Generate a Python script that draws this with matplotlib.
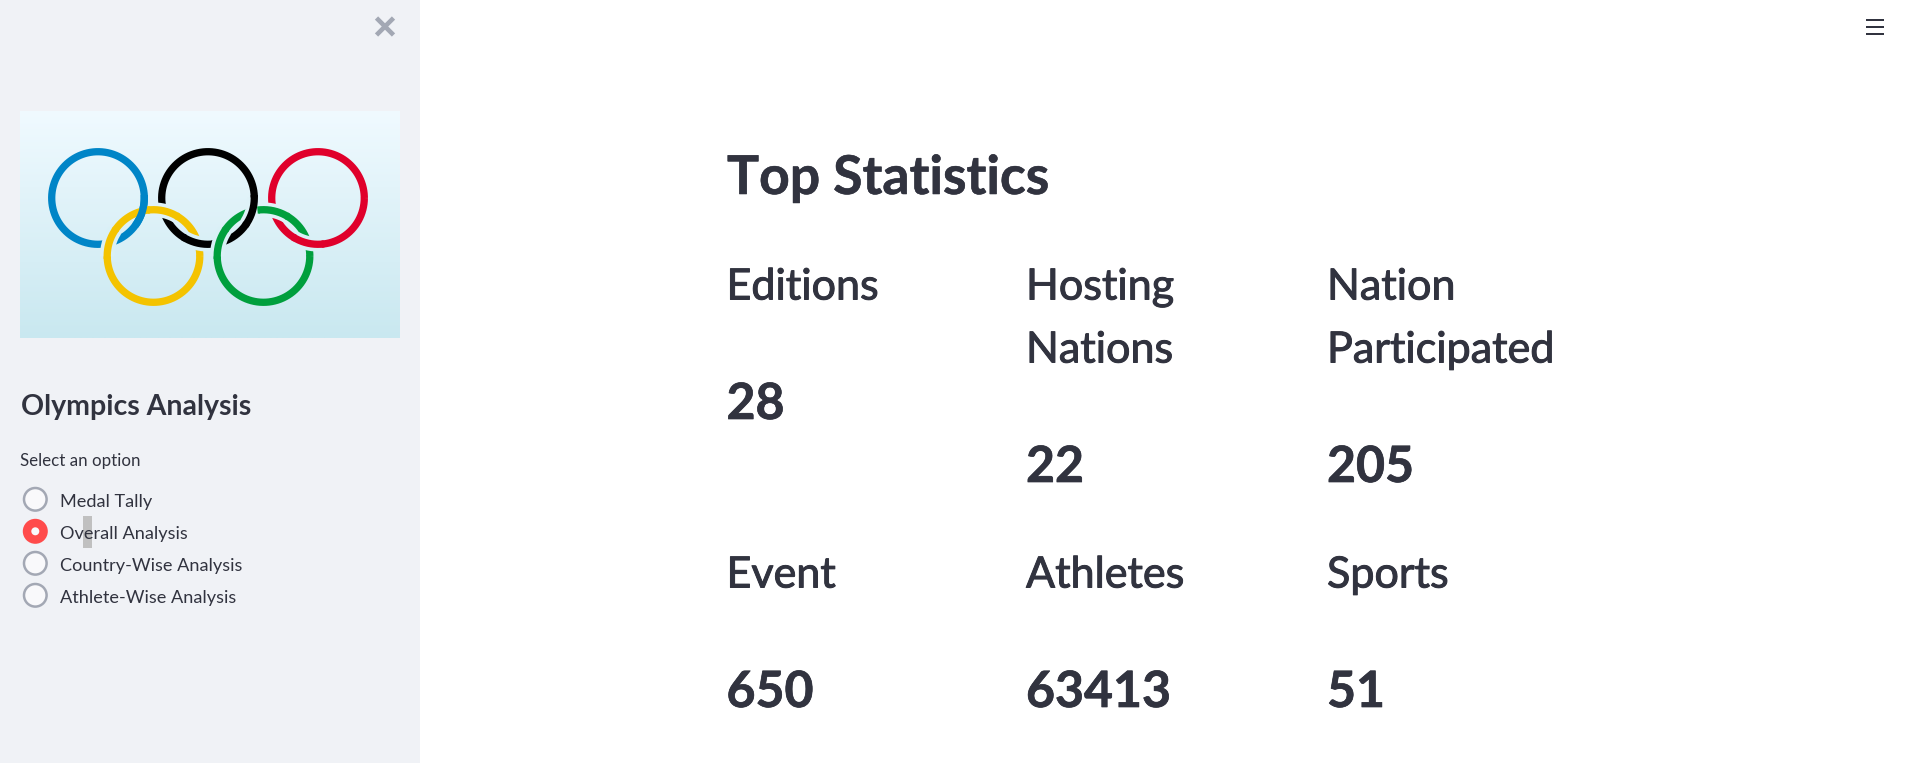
import matplotlib
matplotlib.use("Agg")
import matplotlib.pyplot as plt
from matplotlib.patches import Circle, Rectangle
import matplotlib.patheffects as pe
import numpy as np

plt.rcParams['font.family'] = ['Lato', 'Noto Sans', 'DejaVu Sans']

title = "Top Statistics"
sidebar_title = "Olympics Analysis"
radio_label = "Select an option"
radio_options = ["Medal Tally", "Overall Analysis", "Country-Wise Analysis", "Athlete-Wise Analysis"]
selected = 1

row1_names = [["Editions"], ["Hosting", "Nations"], ["Nation", "Participated"]]
row1_values = ["28", "22", "205"]
row2_names = ["Event", "Athletes", "Sports"]
row2_values = ["650", "63413", "51"]

TEXT = "#31333f"
GREY = "#a3a8b4"
SIDE = "#f0f2f6"
PX = 0.72  # px to points at dpi 100

fig = plt.figure(figsize=(19.2, 7.63), dpi=100)
ax = fig.add_axes([0, 0, 1, 1])
ax.axis("off")


def label(x, y, s, size, weight="normal", thicken=0):
    t = ax.text(x, y, s, fontsize=size, fontweight=weight, color=TEXT, ha="left", va="baseline", zorder=10)
    if thicken:
        t.set_path_effects([pe.withStroke(linewidth=thicken, foreground=TEXT)])


# sidebar
ax.add_patch(Rectangle((0, 0), 420, 763, fc=SIDE, ec="none"))
ax.plot([376.5, 393.5], [18, 35], color=GREY, lw=4.6 * PX, solid_capstyle="butt")
ax.plot([376.5, 393.5], [35, 18], color=GREY, lw=4.6 * PX, solid_capstyle="butt")

# logo background
top_col = np.array([240, 250, 255]) / 255
bot_col = np.array([201, 232, 240]) / 255
img_top, img_bot = 111, 338


def bg_at(y):
    t = (y - img_top) / (img_bot - img_top)
    return top_col + (bot_col - top_col) * t


grad = np.array([bg_at(y) for y in np.linspace(img_top, img_bot, 227)])[:, None, :]
ax.imshow(grad, extent=[20, 400, img_bot, img_top], aspect="auto", interpolation="bilinear", zorder=1)

# rings
rings = {
    "blue": (98, 198, "#0085c7"),
    "black": (208, 198, "#000000"),
    "red": (318, 198, "#e0002b"),
    "yellow": (153.5, 256, "#f4c300"),
    "green": (263.5, 256, "#009f3d"),
}
R = 46.3
W = 7.3


def arc(cx, cy, a0, a1, color, w, z):
    t = np.radians(np.linspace(a0, a1, 200))
    ax.plot(cx + R * np.cos(t), cy + R * np.sin(t), color=color, lw=w * PX, solid_capstyle="butt", zorder=z)


for name, (cx, cy, col) in rings.items():
    arc(cx, cy, 0, 360, col, W, 2)

# over ring, under ring, which crossing, gap width
crossings = [
    ("blue", "yellow", "upper", 0),
    ("yellow", "blue", "lower", 14.5),
    ("yellow", "black", "upper", 14.5),
    ("black", "yellow", "lower", 14.5),
    ("black", "green", "upper", 14.5),
    ("green", "black", "lower", 14.5),
    ("green", "red", "upper", 14.5),
    ("red", "green", "lower", 14.5),
]
z = 3
for over, under, which, gap in crossings:
    ox, oy, ocol = rings[over]
    ux, uy, _ = rings[under]
    mx, my = (ox + ux) / 2, (oy + uy) / 2
    dx, dy = ux - ox, uy - oy
    d = np.hypot(dx, dy)
    h = np.sqrt(R ** 2 - (d / 2) ** 2)
    p1 = (mx + h * dy / d, my - h * dx / d)
    p2 = (mx - h * dy / d, my + h * dx / d)
    p = min(p1, p2, key=lambda q: q[1]) if which == "upper" else max(p1, p2, key=lambda q: q[1])
    a = np.degrees(np.arctan2(p[1] - oy, p[0] - ox))
    if gap:
        arc(ox, oy, a - 17, a + 17, bg_at(p[1]), gap, z)
    arc(ox, oy, a - 20, a + 20, ocol, W, z + 1)
    z += 2

label(21, 415, sidebar_title, 20.5, "bold")
label(20.5, 466, radio_label, 12.2)

radio_y = [499.3, 531.3, 563.3, 595.3]
label_y = [507, 539, 571, 603]
ax.add_patch(Rectangle((83, 516), 9, 32, fc="#c0c0c0", ec="none", zorder=5))
for i, opt in enumerate(radio_options):
    if i == selected:
        ax.add_patch(Circle((35.3, radio_y[i]), 12.5, fc="#ff4b4b", ec="none", zorder=6))
        ax.add_patch(Circle((35.3, radio_y[i]), 4, fc="#f9f9fb", ec="none", zorder=7))
    else:
        ax.add_patch(Circle((35.3, radio_y[i]), 11.3, fc="#f9f9fb", ec=GREY, lw=2.5 * PX, zorder=6))
    label(60.5, label_y[i], opt, 13.1)

# menu icon
for y in [20, 27, 34]:
    ax.plot([1866, 1884], [y, y], color=TEXT, lw=2 * PX, solid_capstyle="butt")

# main
col_x = [726.5, 1026, 1327]
label(727, 194, title, 38.5, "bold", thicken=0.4)
for x, names, val in zip(col_x, row1_names, row1_values):
    y = 299.5
    for n in names:
        label(x, y, n, 31, thicken=0.7)
        y += 63
    label(x, y + 56.5, val, 36, "bold", thicken=0.5)
for x, n, val in zip(col_x, row2_names, row2_values):
    label(x, 587.5, n, 31, thicken=0.7)
    label(x, 707, val, 36, "bold", thicken=0.5)

ax.set_xlim(0, 1920)
ax.set_ylim(763, 0)
fig.savefig("out.png", dpi=100, facecolor="white")
